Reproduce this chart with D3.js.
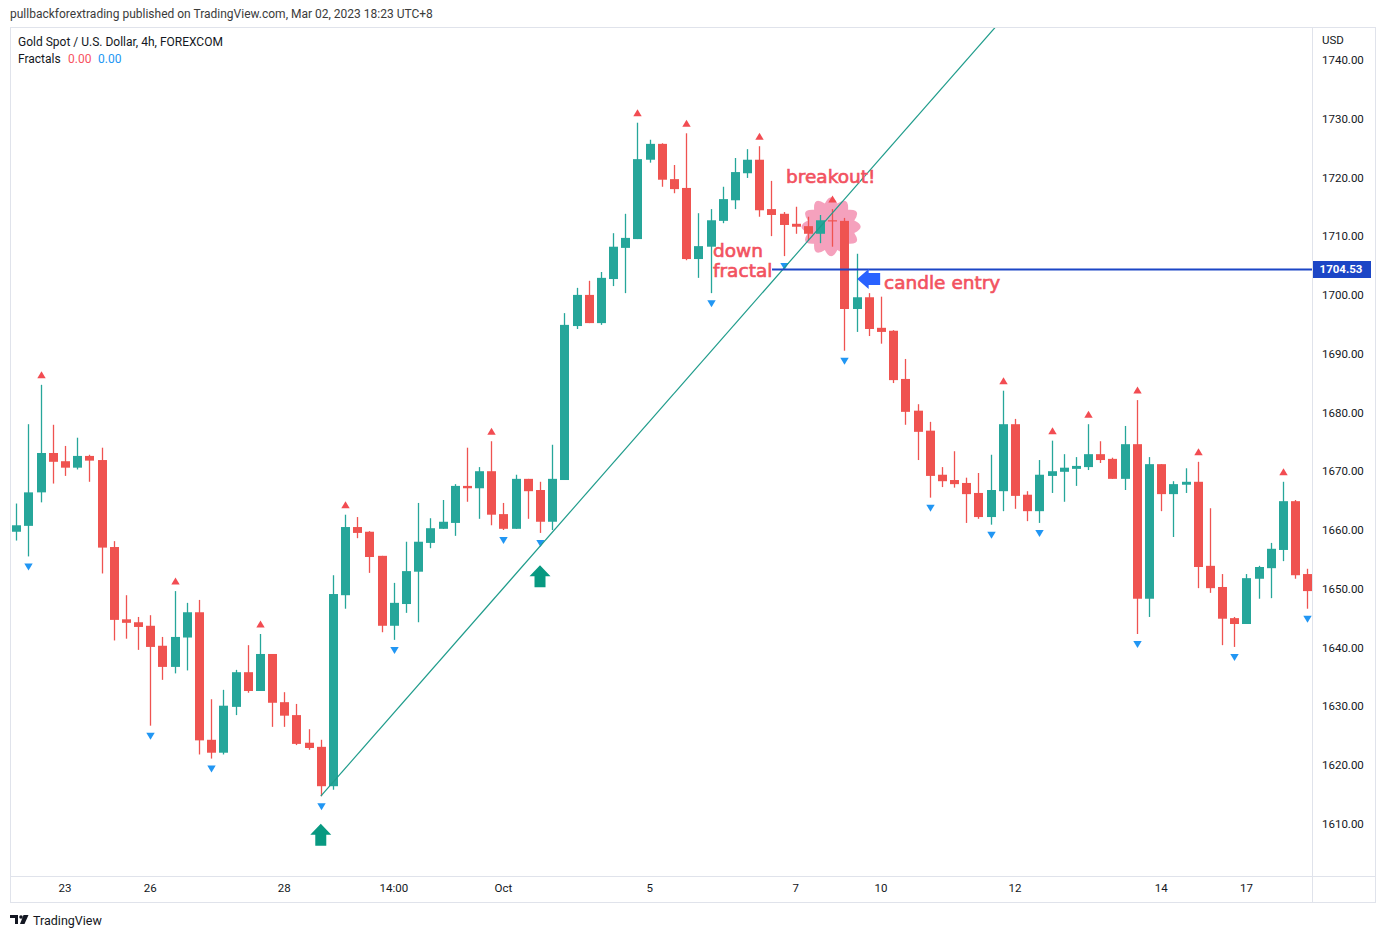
<!DOCTYPE html>
<html><head><meta charset="utf-8">
<script src="https://cdn.jsdelivr.net/npm/d3@7"></script>
<style>
html,body{margin:0;padding:0;background:#fff;}
svg{display:block;font-family:Roboto,"Noto Sans",sans-serif;}
</style></head>
<body>
<svg id="c" width="1386" height="939"></svg>
<script>
// ---------- DATA ----------
const opens = [1659.9,1660.9,1666.6,1673.3,1671.9,1670.8,1672.8,1672.1,1657.3,1645.0,1644.5,1643.9,1640.5,1636.9,1641.9,1646.2,1624.5,1622.3,1630.1,1636.0,1632.8,1639.1,1630.9,1628.7,1624.0,1623.3,1616.6,1649.1,1660.7,1659.9,1655.8,1643.9,1647.6,1653.1,1658.0,1660.4,1661.4,1667.7,1667.3,1670.2,1662.9,1660.4,1668.9,1667.0,1661.6,1668.7,1694.9,1700.2,1695.4,1702.9,1708.2,1709.7,1723.2,1725.9,1719.9,1718.4,1706.3,1708.4,1712.8,1716.3,1720.9,1723.2,1714.8,1714.0,1712.3,1711.9,1710.6,1712.9,1712.8,1697.8,1699.8,1694.6,1694.1,1685.9,1680.5,1677.1,1669.6,1668.7,1668.2,1666.5,1662.4,1666.8,1678.2,1666.2,1663.4,1669.4,1670.1,1670.6,1670.9,1673.1,1672.3,1668.9,1674.8,1648.5,1671.4,1666.3,1667.9,1668.4,1654.1,1650.5,1645.2,1644.2,1651.9,1653.7,1656.8,1665.1,1652.7];
const highs = [1664.7,1678.2,1684.9,1678.1,1674.5,1675.9,1673.0,1674.2,1658.3,1649.1,1645.4,1645.7,1642.0,1649.8,1647.8,1648.3,1631.4,1633.0,1636.4,1640.6,1642.5,1639.1,1632.6,1630.6,1626.3,1624.5,1652.5,1662.8,1662.4,1660.0,1655.8,1651.2,1658.2,1664.8,1662.2,1665.3,1668.0,1674.2,1670.9,1675.3,1664.8,1669.6,1668.9,1668.4,1674.7,1697.1,1701.4,1702.6,1704.1,1710.7,1714.0,1729.5,1726.6,1726.0,1722.3,1727.7,1714.1,1714.8,1718.6,1723.5,1725.0,1725.5,1719.6,1714.3,1715.2,1713.5,1713.8,1714.8,1713.3,1707.2,1700.5,1699.9,1694.2,1689.3,1681.6,1678.6,1670.9,1673.6,1669.1,1669.9,1673.0,1683.9,1679.1,1666.8,1672.1,1675.4,1673.1,1672.6,1678.2,1675.3,1672.5,1677.9,1682.3,1672.6,1671.4,1668.5,1670.7,1671.8,1663.9,1652.7,1645.4,1652.7,1654.1,1658.0,1668.4,1665.3,1653.6];
const lows = [1658.4,1655.7,1664.9,1668.1,1669.4,1670.5,1668.4,1652.8,1641.4,1641.7,1639.8,1626.9,1634.7,1635.8,1636.3,1622.0,1621.3,1622.0,1628.7,1632.5,1632.8,1626.7,1626.7,1623.6,1622.8,1614.9,1616.0,1646.8,1658.8,1652.9,1642.8,1641.5,1646.1,1644.5,1657.1,1660.4,1659.2,1665.0,1662.1,1661.0,1660.2,1660.4,1662.1,1659.7,1660.2,1668.7,1694.4,1695.4,1695.1,1701.7,1700.5,1709.7,1722.7,1718.6,1717.5,1706.1,1703.1,1700.5,1712.4,1714.8,1720.1,1713.5,1710.2,1706.8,1710.6,1709.5,1709.0,1708.4,1690.7,1693.9,1693.2,1691.9,1685.2,1678.1,1672.1,1665.7,1667.5,1667.4,1661.4,1662.1,1661.1,1663.4,1663.8,1661.7,1661.4,1666.5,1665.0,1667.7,1670.4,1671.6,1668.9,1667.0,1642.5,1645.4,1663.4,1659.0,1666.5,1650.3,1649.5,1640.6,1640.3,1644.2,1648.5,1648.6,1654.9,1651.9,1646.8];
const closes = [1661.0,1666.6,1673.3,1671.8,1670.8,1672.8,1672.0,1657.2,1644.9,1644.4,1643.7,1640.3,1636.9,1642.0,1646.2,1624.4,1622.3,1630.3,1636.0,1632.8,1639.1,1630.8,1628.6,1623.8,1623.1,1616.6,1649.3,1660.7,1659.7,1655.6,1643.9,1647.8,1653.2,1658.2,1660.5,1661.6,1667.7,1667.3,1670.2,1662.8,1660.4,1668.9,1666.8,1661.6,1668.9,1695.1,1700.2,1695.4,1703.1,1708.4,1709.9,1723.3,1725.9,1719.8,1718.2,1706.3,1708.5,1712.9,1716.5,1721.1,1723.2,1714.6,1713.8,1712.1,1711.8,1710.6,1712.9,1712.7,1697.8,1699.8,1694.4,1693.9,1685.7,1680.3,1676.9,1669.4,1668.5,1668.0,1666.3,1662.4,1667.0,1678.2,1666.0,1663.4,1669.6,1670.2,1670.8,1671.1,1673.1,1672.1,1668.9,1674.8,1648.5,1671.4,1666.3,1668.0,1668.4,1653.9,1650.3,1645.1,1644.2,1652.0,1653.9,1657.0,1665.1,1652.5,1649.8];
const upFractals = [2,13,20,27,39,51,55,61,67,81,85,88,92,97,104];
const downFractals = [1,11,16,25,31,40,43,57,63,68,75,80,84,92,100,106];
const priceTicks = [1610,1620,1630,1640,1650,1660,1670,1680,1690,1700,1710,1720,1730,1740];
const timeTickIdx = [4,11,22,31,40,52,64,71,82,94,101];
const timeTickLabels = ["23","26","28","14:00","Oct","5","7","10","12","14","17"];
const trendLine = [[25,1614.9],[81,1747.2]];
const entryLevel = 1704.53;
const entryStartIdx = 62.05;
const upArrows = [[25,1610.2],[43,1654.2]];

// ---------- LAYOUT ----------
const paneL=10, paneT=27, paneR=1312, paneB=876, outerR=1376, outerB=903;
const svg=d3.select("#c");
const x=d3.scaleLinear().domain([0,106]).range([16.3,1307.3]);
const y=d3.scaleLinear().domain([1610,1740]).range([825,61]);
const UP="#26a69a", DN="#ef5350";
const txt="#131722";

// header
svg.append("text").attr("x",10).attr("y",18).attr("font-size",12).attr("fill","#3b3b3b")
  .text("pullbackforextrading published on TradingView.com, Mar 02, 2023 18:23 UTC+8");

// frame
const g=svg.append("g");
g.append("rect").attr("x",paneL+0.5).attr("y",paneT+0.5).attr("width",outerR-paneL-1).attr("height",outerB-paneT-1)
  .attr("fill","none").attr("stroke","#e0e3eb");
g.append("line").attr("x1",paneR+0.5).attr("x2",paneR+0.5).attr("y1",paneT).attr("y2",outerB).attr("stroke","#e0e3eb");
g.append("line").attr("x1",paneL).attr("x2",outerR).attr("y1",paneB+0.5).attr("y2",paneB+0.5).attr("stroke","#e0e3eb");

// clip
svg.append("defs").append("clipPath").attr("id","pc").append("rect")
  .attr("x",paneL+1).attr("y",paneT+1).attr("width",paneR-paneL-1).attr("height",paneB-paneT-1);
const plot=svg.append("g").attr("clip-path","url(#pc)");

// breakout starburst (behind candles) - rounded lobes
(function(){
  const cx=x(66.9), cy=y(1711.8), ri=24, rc=36, n=12;
  let d="";
  for(let k=0;k<n;k++){
    const a0=2*Math.PI*k/n - Math.PI/2 - Math.PI/n;
    const am=a0+Math.PI/n, a1=a0+2*Math.PI/n;
    const p0=[cx+ri*Math.cos(a0), cy+ri*Math.sin(a0)];
    const pc=[cx+rc*Math.cos(am), cy+rc*Math.sin(am)];
    const p1=[cx+ri*Math.cos(a1), cy+ri*Math.sin(a1)];
    if(k===0) d+=`M${p0[0]},${p0[1]}`;
    d+=`Q${pc[0]},${pc[1]} ${p1[0]},${p1[1]}`;
  }
  d+="Z";
  plot.append("path").attr("d",d).attr("fill","#f5a1bd");
})();

// candles
const idx=d3.range(opens.length);
const bw=9;
idx.forEach(i=>{
  const o=opens[i],c=closes[i],h=highs[i],l=lows[i];
  const col=c>=o?UP:DN;
  const xc=Math.round(x(i));
  plot.append("line").attr("x1",xc+0.5).attr("x2",xc+0.5).attr("y1",y(h)).attr("y2",y(l))
    .attr("stroke",col).attr("stroke-width",1.3);
  const top=y(Math.max(o,c)), bot=y(Math.min(o,c));
  plot.append("rect").attr("x",xc+0.5-bw/2).attr("y",top).attr("width",bw).attr("height",Math.max(1,bot-top)).attr("fill",col);
});

// fractals
upFractals.forEach(i=>{
  const xc=Math.round(x(i))+0.5, yy=y(highs[i]);
  plot.append("path").attr("d",`M${xc-4.2},${yy-6.5}L${xc+4.2},${yy-6.5}L${xc},${yy-13.5}Z`).attr("fill","#f24c52");
});
downFractals.forEach(i=>{
  const xc=Math.round(x(i))+0.5, yy=y(lows[i]);
  plot.append("path").attr("d",`M${xc-4.2},${yy+7}L${xc+4.2},${yy+7}L${xc},${yy+14}Z`).attr("fill","#2196f3");
});

// trend line
plot.append("line").attr("x1",x(trendLine[0][0])).attr("y1",y(trendLine[0][1]))
  .attr("x2",x(trendLine[1][0])).attr("y2",y(trendLine[1][1]))
  .attr("stroke","#1f9c8b").attr("stroke-width",1.2);

// entry level line
const ey=Math.round(y(entryLevel))+0.5;
plot.append("line").attr("x1",x(entryStartIdx)).attr("x2",paneR).attr("y1",ey).attr("y2",ey)
  .attr("stroke","#1c46c6").attr("stroke-width",2);

// green up arrows
upArrows.forEach(([i,p])=>{
  const xc=x(i), ty=y(p);
  plot.append("path").attr("d",
    `M${xc},${ty}L${xc+10.5},${ty+11}L${xc+5.5},${ty+11}L${xc+5.5},${ty+22}L${xc-5.5},${ty+22}L${xc-5.5},${ty+11}L${xc-10.5},${ty+11}Z`)
    .attr("fill","#089981");
});

// candle entry arrow (blue, pointing left)
(function(){
  const tx=x(69)+0.5, ty=y(1702.9);
  plot.append("path").attr("d",
    `M${tx},${ty}L${tx+11.5},${ty-10}L${tx+11.5},${ty-6}L${tx+23},${ty-6}L${tx+23},${ty+6}L${tx+11.5},${ty+6}L${tx+11.5},${ty+10}Z`)
    .attr("fill","#2962ff");
})();

// annotation texts
const annCol="#f2525f";
const ann=svg.append("g").attr("fill",annCol).attr("font-size",18.5).attr("font-weight",400)
  .attr("font-family","'DejaVu Sans', Verdana, sans-serif").attr("stroke",annCol).attr("stroke-width",0.65);
ann.append("text").attr("x",786).attr("y",183).text("breakout!");
ann.append("text").attr("x",713).attr("y",257).text("down");
ann.append("text").attr("x",713).attr("y",277).text("fractal");
ann.append("text").attr("x",884).attr("y",289).text("candle entry");

// price axis
const pa=svg.append("g").attr("font-size",11.5).attr("fill",txt);
pa.append("text").attr("x",1322).attr("y",41).attr("dominant-baseline","middle").text("USD");
priceTicks.forEach(p=>{
  pa.append("text").attr("x",1322).attr("y",y(p)).attr("dominant-baseline","middle").text(p.toFixed(2));
});
// entry label
svg.append("rect").attr("x",paneR+1).attr("y",ey-8.5).attr("width",58).attr("height",17).attr("fill","#1c46c6");
svg.append("text").attr("x",1341).attr("y",ey).attr("dominant-baseline","middle").attr("text-anchor","middle")
  .attr("font-size",11.5).attr("font-weight",700).attr("fill","#fff").text(entryLevel.toFixed(2));

// time axis
const ta=svg.append("g").attr("font-size",11.5).attr("fill",txt).attr("text-anchor","middle");
timeTickIdx.forEach((i,k)=>{
  ta.append("text").attr("x",x(i)).attr("y",889).attr("dominant-baseline","middle").text(timeTickLabels[k]);
});

// legend
const lg=svg.append("g").attr("font-size",12).attr("fill",txt);
lg.append("text").attr("x",18).attr("y",46).text("Gold Spot / U.S. Dollar, 4h, FOREXCOM");
lg.append("text").attr("x",18).attr("y",63).text("Fractals");
lg.append("text").attr("x",68).attr("y",63).attr("fill","#f7525f").text("0.00");
lg.append("text").attr("x",98).attr("y",63).attr("fill","#2196f3").text("0.00");

// TradingView logo
const lgo=svg.append("g").attr("fill","#131722");
lgo.append("path").attr("d","M10,915h8v9h-3v-6h-5z");
lgo.append("circle").attr("cx",21).attr("cy",917).attr("r",1.8);
lgo.append("path").attr("d","M23.5,915h5l-4,9h-4.5z");
svg.append("text").attr("x",33).attr("y",925).attr("font-size",12.5).attr("fill","#131722").text("TradingView");
</script>
</body></html>
